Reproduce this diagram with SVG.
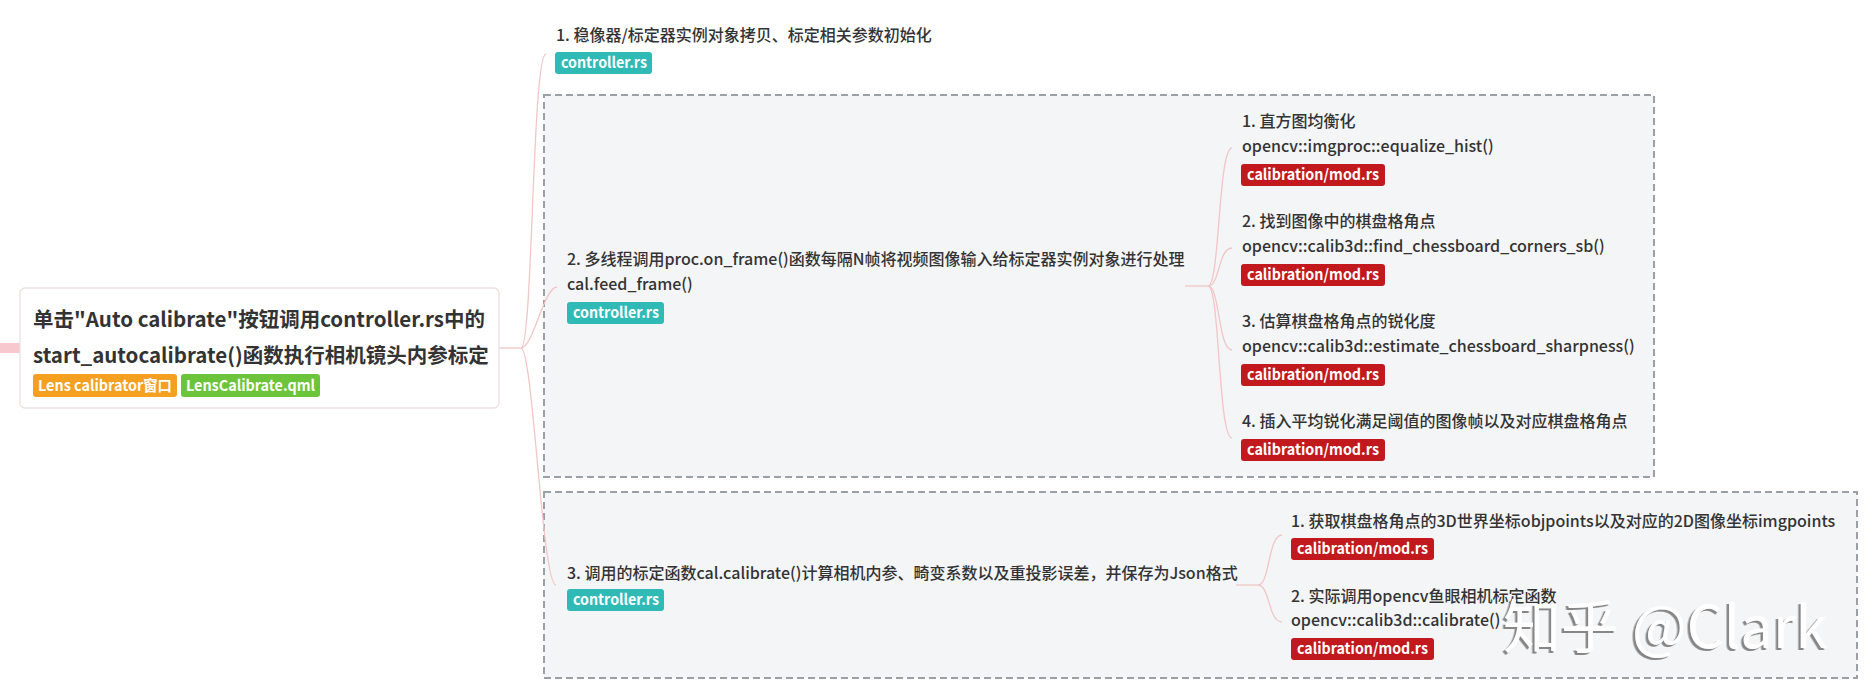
<svg xmlns="http://www.w3.org/2000/svg" width="1866" height="697" viewBox="0 0 1866 697">
<defs>
<style>
text{font-family:"Noto Sans CJK SC","Noto Sans",sans-serif;fill:#333;}
.t{font-size:16px;font-weight:500;}
.root{font-size:20.5px;font-weight:700;}
.tag{font-size:15px;font-weight:700;fill:#fff;}
.teal{fill:#2fbab6;}
.red{fill:#c2191e;}
.orange{fill:#f5a020;}
.green{fill:#6cc43a;}
.conn{fill:none;stroke:#f2c6c6;stroke-width:1.3;}
.dash{fill:#f4f5f7;stroke:#9b9fa6;stroke-width:2;stroke-dasharray:7 4;}
.wm{font-size:58px;font-weight:400;fill:#fff;}
</style>
<filter id="emboss" x="-10%" y="-20%" width="120%" height="140%">
<feDropShadow dx="-2.5" dy="2" stdDeviation="0.6" flood-color="#7a7a7a" flood-opacity="0.9"/>
</filter>
</defs>
<rect width="1866" height="697" fill="#fff"/>

<g id="boxes">
<rect class="dash" x="544" y="95" width="1110" height="382"/>
<rect class="dash" x="544" y="492" width="1313" height="186"/>
</g>

<g id="connectors">
<rect x="0" y="343" width="20" height="10" fill="#f7c8ce"/>
<path class="conn" d="M499 348 H521"/>
<path class="conn" d="M521 348 C533 348 532 54 546 54"/>
<path class="conn" d="M521 348 C533 348 544 287 557 287"/>
<path class="conn" d="M521 348 C533 348 542 585 556 585"/>
<path class="conn" d="M1185 286 H1208"/>
<path class="conn" d="M1208 286 C1220 286 1218 148 1232 148"/>
<path class="conn" d="M1208 286 C1220 286 1218 248 1232 248"/>
<path class="conn" d="M1208 286 C1220 286 1218 350 1232 350"/>
<path class="conn" d="M1208 286 C1220 286 1218 438 1232 438"/>
<path class="conn" d="M1236 585 H1258"/>
<path class="conn" d="M1258 585 C1270 585 1268 535 1282 535"/>
<path class="conn" d="M1258 585 C1270 585 1268 622 1282 622"/>
</g>

<g id="root">
<rect x="20" y="288" width="479" height="120" rx="5" fill="#fff" stroke="#f0dfe0" stroke-width="1.3"/>
<text class="root" x="33" y="327">单击"Auto calibrate"按钮调用controller.rs中的</text>
<text class="root" x="33" y="363">start_autocalibrate()函数执行相机镜头内参标定</text>
<rect class="orange" x="33" y="374" width="144" height="23" rx="3"/>
<text class="tag" x="38" y="391" textLength="134" lengthAdjust="spacingAndGlyphs">Lens calibrator窗口</text>
<rect class="green" x="181" y="374" width="139" height="23" rx="3"/>
<text class="tag" x="186" y="391" textLength="129" lengthAdjust="spacingAndGlyphs">LensCalibrate.qml</text>
</g>

<g id="n1">
<text class="t" x="556" y="41">1. 稳像器/标定器实例对象拷贝、标定相关参数初始化</text>
<rect class="teal" x="555" y="52" width="97" height="22" rx="3"/>
<text class="tag" x="561" y="68" textLength="86" lengthAdjust="spacingAndGlyphs">controller.rs</text>
</g>

<g id="n2">
<text class="t" x="567" y="265">2. 多线程调用proc.on_frame()函数每隔N帧将视频图像输入给标定器实例对象进行处理</text>
<text class="t" x="567" y="290">cal.feed_frame()</text>
<rect class="teal" x="567" y="302" width="97" height="22" rx="3"/>
<text class="tag" x="573" y="318" textLength="86" lengthAdjust="spacingAndGlyphs">controller.rs</text>
</g>

<g id="n2-1">
<text class="t" x="1242" y="127">1. 直方图均衡化</text>
<text class="t" x="1242" y="152">opencv::imgproc::equalize_hist()</text>
<rect class="red" x="1241" y="164" width="144" height="22" rx="3"/>
<text class="tag" x="1247" y="180" textLength="132" lengthAdjust="spacingAndGlyphs">calibration/mod.rs</text>
</g>

<g id="n2-2">
<text class="t" x="1242" y="227">2. 找到图像中的棋盘格角点</text>
<text class="t" x="1242" y="252">opencv::calib3d::find_chessboard_corners_sb()</text>
<rect class="red" x="1241" y="264" width="144" height="22" rx="3"/>
<text class="tag" x="1247" y="280" textLength="132" lengthAdjust="spacingAndGlyphs">calibration/mod.rs</text>
</g>

<g id="n2-3">
<text class="t" x="1242" y="327">3. 估算棋盘格角点的锐化度</text>
<text class="t" x="1242" y="352">opencv::calib3d::estimate_chessboard_sharpness()</text>
<rect class="red" x="1241" y="364" width="144" height="22" rx="3"/>
<text class="tag" x="1247" y="380" textLength="132" lengthAdjust="spacingAndGlyphs">calibration/mod.rs</text>
</g>

<g id="n2-4">
<text class="t" x="1242" y="427">4. 插入平均锐化满足阈值的图像帧以及对应棋盘格角点</text>
<rect class="red" x="1241" y="439" width="144" height="22" rx="3"/>
<text class="tag" x="1247" y="455" textLength="132" lengthAdjust="spacingAndGlyphs">calibration/mod.rs</text>
</g>

<g id="n3">
<text class="t" x="567" y="579">3. 调用的标定函数cal.calibrate()计算相机内参、畸变系数以及重投影误差，并保存为Json格式</text>
<rect class="teal" x="567" y="589" width="97" height="22" rx="3"/>
<text class="tag" x="573" y="605" textLength="86" lengthAdjust="spacingAndGlyphs">controller.rs</text>
</g>

<g id="n3-1">
<text class="t" x="1291" y="527">1. 获取棋盘格角点的3D世界坐标objpoints以及对应的2D图像坐标imgpoints</text>
<rect class="red" x="1291" y="538" width="143" height="22" rx="3"/>
<text class="tag" x="1297" y="554" textLength="131" lengthAdjust="spacingAndGlyphs">calibration/mod.rs</text>
</g>

<g id="n3-2">
<text class="t" x="1291" y="602">2. 实际调用opencv鱼眼相机标定函数</text>
<text class="t" x="1291" y="626">opencv::calib3d::calibrate()</text>
<rect class="red" x="1291" y="638" width="143" height="22" rx="3"/>
<text class="tag" x="1297" y="654" textLength="131" lengthAdjust="spacingAndGlyphs">calibration/mod.rs</text>
</g>

<g id="watermark">
<text class="wm" x="1503" y="648" filter="url(#emboss)">知乎 @Clark</text>
</g>
</svg>
